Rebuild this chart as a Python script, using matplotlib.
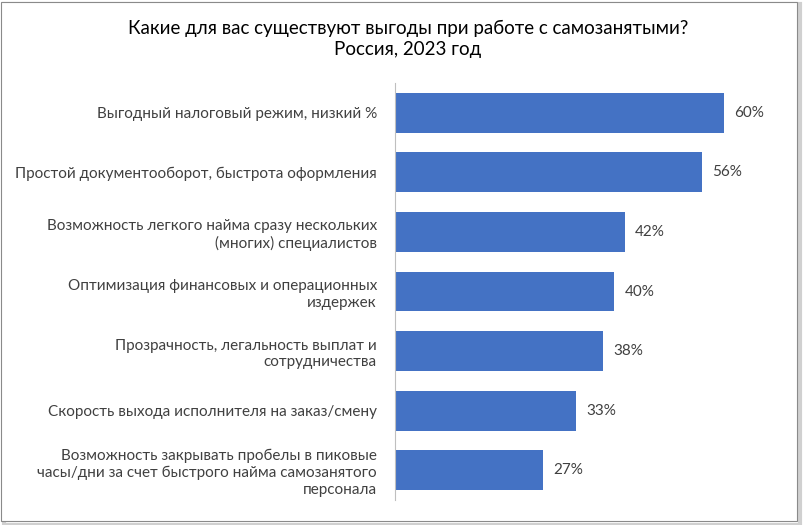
import matplotlib
matplotlib.use("Agg")
from matplotlib import pyplot as plt
from matplotlib.patches import Rectangle

# Data
categories = [
    "Выгодный налоговый режим, низкий %",
    "Простой документооборот, быстрота оформления",
    "Возможность легкого найма сразу нескольких\n(многих) специалистов",
    "Оптимизация финансовых и операционных\nиздержек",
    "Прозрачность, легальность выплат и\nсотрудничества",
    "Скорость выхода исполнителя на заказ/смену",
    "Возможность закрывать пробелы в пиковые\nчасы/дни за счет быстрого найма самозанятого\nперсонала",
]
values = [60, 56, 42, 40, 38, 33, 27]

W, H = 804, 525
fig = plt.figure(figsize=(W / 100, H / 100), dpi=100)
plt.rcParams["font.family"] = "Lato"

# Frame with light shadow
fig.patches.append(Rectangle((4 / W, 0), (W - 8) / W, (H - 4) / H, transform=fig.transFigure,
                             facecolor="none", edgecolor="#d0d0d0", linewidth=3, zorder=0))
fig.patches.append(Rectangle((1 / W, 4 / H), (W - 8) / W, (H - 6) / H, transform=fig.transFigure,
                             facecolor="white", edgecolor="#8a8a8a", linewidth=0.8, zorder=1))

left, top, bottom = 395, 83, 500
ax = fig.add_axes([left / W, 1 - bottom / H, 384 / W, (bottom - top) / H])
ax.set_zorder(2)
ax.patch.set_alpha(0)

ypos = list(range(len(values)))
ax.barh(ypos, values, height=0.67, color="#4472C4")
ax.set_xlim(0, 70)
ax.set_ylim(len(values) - 0.5, -0.5)
for y, v in zip(ypos, values):
    ax.text(v + 1.8, y, f"{v}%", va="center", ha="left", fontsize=11, color="#404040")

ax.set_yticks(ypos)
ax.set_yticklabels(categories, fontsize=11, color="#404040", linespacing=1.25)
ax.tick_params(axis="y", length=0, pad=13)
ax.set_xticks([])
for s in ["top", "right", "bottom"]:
    ax.spines[s].set_visible(False)
ax.spines["left"].set_color("#bfbfbf")

fig.text(408 / W, 1 - 28 / H, "Какие для вас существуют выгоды при работе с самозанятыми?",
         ha="center", va="center", fontsize=13.5, color="#000000")
fig.text(408 / W, 1 - 50 / H, "Россия, 2023 год",
         ha="center", va="center", fontsize=13.5, color="#000000")

fig.savefig("out.png", dpi=100)
